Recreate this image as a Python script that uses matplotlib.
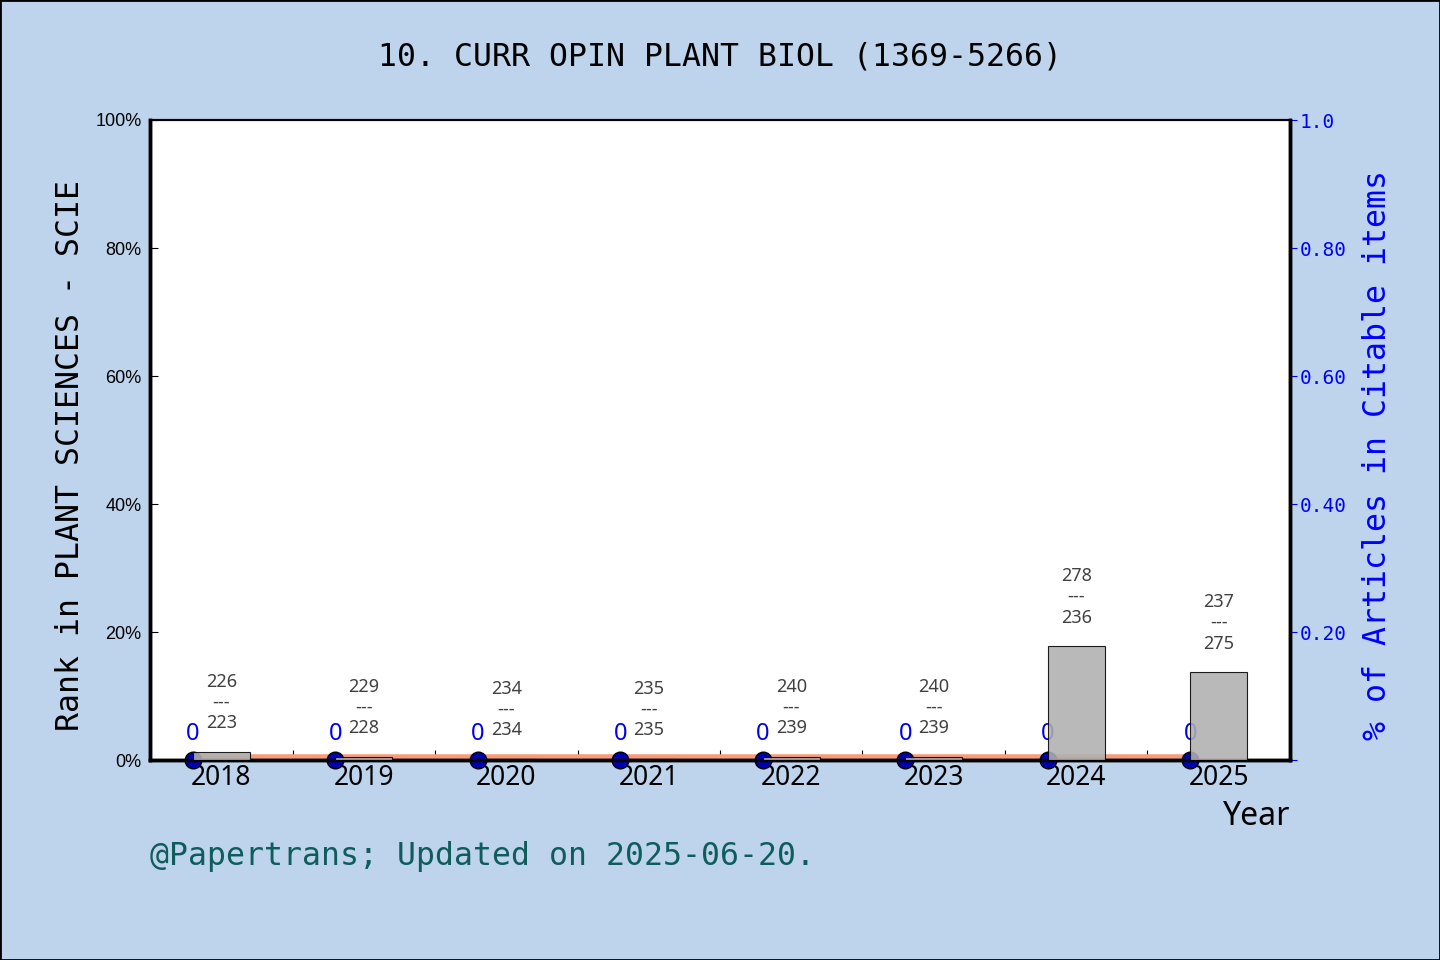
import matplotlib
matplotlib.use("Agg")
import matplotlib.pyplot as plt
from matplotlib.patches import Rectangle

# data
years = ["2018", "2019", "2020", "2021", "2022", "2023", "2024", "2025"]
bar_pct = [1.3, 0.5, 0.2, 0.2, 0.5, 0.5, 17.8, 13.7]   # left axis, %
rank_top = [226, 229, 234, 235, 240, 240, 278, 237]
rank_bottom = [223, 228, 234, 235, 239, 239, 236, 275]
citable = [0, 0, 0, 0, 0, 0, 0, 0]                      # right axis

title = "10. CURR OPIN PLANT BIOL (1369-5266)"
left_label = "Rank in PLANT SCIENCES - SCIE"
right_label = "% of Articles in Citable items"
footnote = "@Papertrans; Updated on 2025-06-20."

BG = "#bdd4ec"
MONO = ["DejaVu Sans Mono"]
BIG = 22.7

fig = plt.figure(figsize=(14.4, 9.6), dpi=100, facecolor=BG)
fig.patches.append(Rectangle((0, 0), 1, 1, transform=fig.transFigure,
                             fill=False, edgecolor="black", linewidth=2))

ax2 = fig.add_axes([0.1042, 0.2083, 0.7916, 0.6667])
ax = ax2.twinx()
ax2.yaxis.tick_right()
ax2.yaxis.set_label_position("right")
ax.yaxis.tick_left()
ax.yaxis.set_label_position("left")
ax2.set_facecolor("white")
ax.patch.set_visible(False)
ax.set_zorder(ax2.get_zorder() + 1)

x = list(range(len(years)))

# right axis series: line + circles + value labels
ax2.plot(x, citable, color="#f79b78", linewidth=9, solid_capstyle="butt", zorder=2)
ax2.plot(x, citable, linestyle="none", marker="o", markersize=12,
         markerfacecolor="#0000b0", markeredgecolor="black", markeredgewidth=1,
         clip_on=False, zorder=3)
for xi, v in zip(x, citable):
    ax2.annotate(f"{v:g}", (xi, v), xytext=(0, 10), textcoords="offset points",
                 ha="center", va="bottom", color="#0000ee", fontsize=17,
                 family=["Noto Sans"])
ax2.set_ylim(0, 1.0)
ax2.set_yticks([0, 0.2, 0.4, 0.6, 0.8, 1.0])
ax2.set_yticklabels(["", "0.20", "0.40", "0.60", "0.80", "1.0"], family=MONO)
ax2.tick_params(axis="y", colors="blue", direction="out", length=5, labelsize=14, pad=2)
ax2.set_ylabel(right_label, color="blue", fontsize=BIG, family=MONO)
ax2.yaxis.set_label_coords(1.063, 0.476)

# left axis bars
ax.bar(x, bar_pct, width=0.4, align="edge", color="#b0b0b0", alpha=0.88,
       edgecolor="black", linewidth=0.8, zorder=3)
for xi, h, t, b in zip(x, bar_pct, rank_top, rank_bottom):
    ax.annotate(f"{t}\n---\n{b}", (xi + 0.2, h), xytext=(0, 14),
                textcoords="offset points", ha="center", va="bottom",
                color="#404040", fontsize=13, linespacing=1.2,
                family=["Noto Sans"])
ax.set_ylim(0, 100)
ax.set_yticks([0, 20, 40, 60, 80, 100])
ax.set_yticklabels([f"{v}%" for v in range(0, 101, 20)], family=["Liberation Sans"])
ax.tick_params(axis="y", direction="in", length=6, labelsize=13, pad=6)
ax.set_ylabel(left_label, fontsize=BIG, family=MONO)
ax.yaxis.set_label_coords(-0.056, 0.476)

ax2.set_xlim(-0.3, 7.7)
ax2.set_xticks([xi + 0.2 for xi in x])
ax2.set_xticklabels(years, family=["Noto Sans"])
ax2.set_xticks([xi + 0.7 for xi in x[:-1]], minor=True)
ax2.tick_params(axis="x", which="major", length=0, labelsize=19, pad=3)
ax2.tick_params(axis="x", which="minor", direction="in", length=7, width=0.8)
ax.set_xlim(-0.3, 7.7)

for a in (ax, ax2):
    for side in ("left", "right", "bottom"):
        a.spines[side].set_linewidth(2.5)
    a.spines["top"].set_linewidth(1.5)

fig.text(0.5, 0.941, title, ha="center", va="center", fontsize=BIG, family=MONO)
fig.text(0.896, 0.149, "Year", ha="right", va="center", fontsize=23,
         family=["Noto Sans"])
fig.text(0.104, 0.108, footnote, ha="left", va="center", fontsize=BIG,
         family=MONO, color="#0f5c5c")

fig.savefig("out.png", dpi=100, facecolor=BG)
